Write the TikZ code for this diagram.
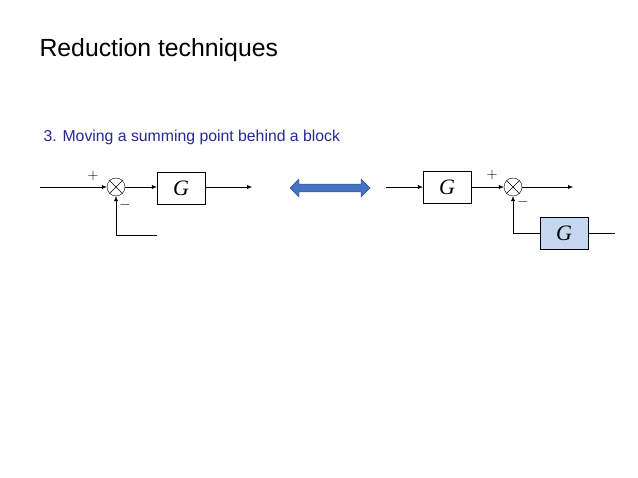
\documentclass[tikz,border=0pt]{standalone}
\usepackage{fontspec}
\setmainfont{Liberation Sans}
\newfontfamily\gserif{Liberation Serif}
\usetikzlibrary{arrows.meta,shapes.arrows}
\definecolor{sub}{RGB}{40,40,150}
\definecolor{blk}{RGB}{197,215,238}
\definecolor{arr}{RGB}{70,114,196}
\begin{document}
\begin{tikzpicture}[x=1pt,y=-1pt,
  blockst/.style={draw,minimum width=48pt,minimum height=32pt,inner sep=0pt,font=\fontsize{22}{22}\selectfont\gserif\itshape},
  sumst/.style={draw,circle,minimum size=18pt,inner sep=0pt},
  sig/.style={-{Latex[length=5pt,width=4pt]}},
  lab/.style={font=\fontsize{14}{14}\selectfont}]
\useasboundingbox (0,0) rectangle (638,478);
\node[anchor=west,font=\fontsize{24.8}{25}\selectfont] (title) at (36,50) {Reduction techniques};
\node[anchor=west,text=sub,font=\fontsize{15.8}{16}\selectfont] (sub) at (40,137) {3. Moving a summing point behind a block};
% left
\coordinate (lin) at (40,187);
\node[sumst] (s1) at (116,187) {};
\draw (s1.north west)--(s1.south east) (s1.north east)--(s1.south west);
\node[blockst] (g1) at (181,188) {G};
\coordinate (lout) at (252,187);
\coordinate (lfb) at (157,235);
\draw[sig] (lin)--(s1);
\draw[sig] (s1)--(g1.west|-s1);
\draw[sig] (g1.east|-s1)--(lout);
\draw[sig] (lfb)-|(s1.south);
\node[lab] (p1) at (93,176) {$+$};
\node[lab] (m1) at (125,205) {$-$};
% double arrow
\node[double arrow,fill=arr,draw=arr!70!black,minimum height=80pt,minimum width=18pt,double arrow head extend=3pt,inner sep=2pt] (da) at (330,188) {};
% right
\coordinate (rin) at (386,187);
\node[blockst] (g2) at (447,187) {G};
\node[sumst] (s2) at (513,187) {};
\draw (s2.north west)--(s2.south east) (s2.north east)--(s2.south west);
\coordinate (rout) at (573,187);
\node[blockst,fill=blk] (g3) at (564,233) {G};
\coordinate (rt) at (615,233);
\draw[sig] (rin)--(g2.west|-rin);
\draw[sig] (g2.east|-s2)--(s2);
\draw[sig] (s2)--(rout);
\draw (g3.east)--(rt);
\draw[sig] (g3.west)-|(s2.south);
\node[lab] (p2) at (492,175) {$+$};
\node[lab] (m2) at (523,202) {$-$};
\end{tikzpicture}
\end{document}
